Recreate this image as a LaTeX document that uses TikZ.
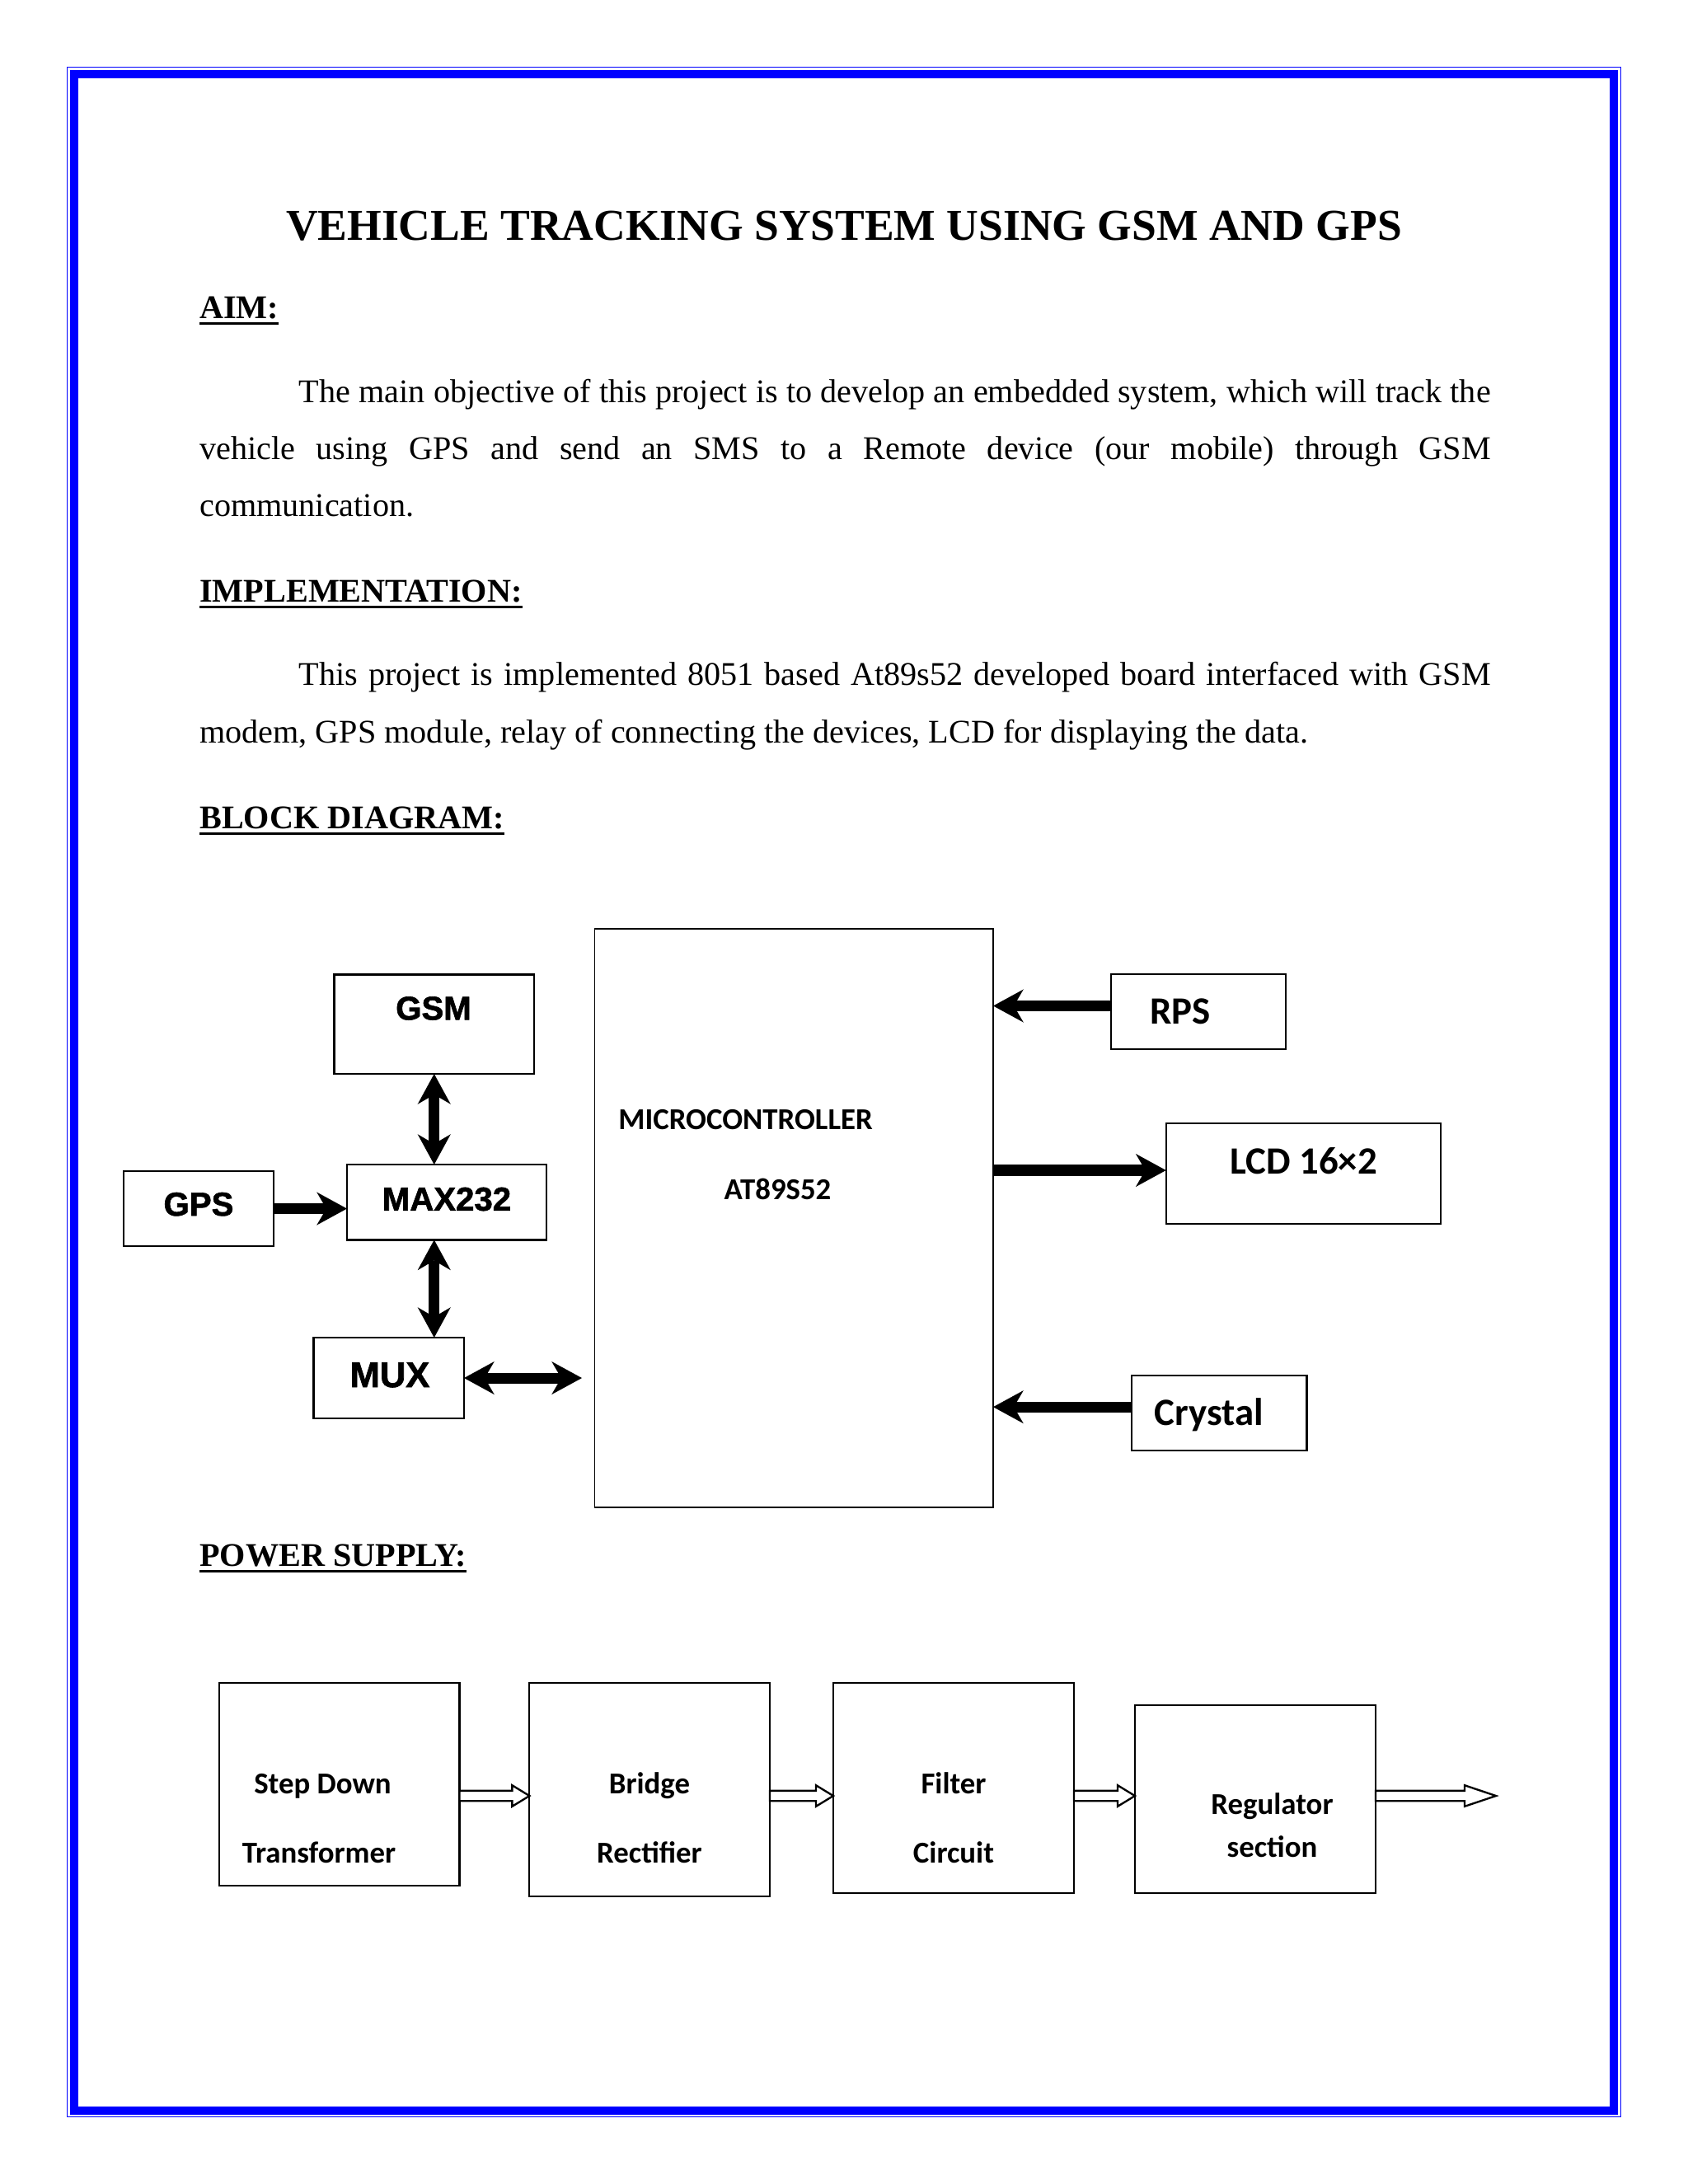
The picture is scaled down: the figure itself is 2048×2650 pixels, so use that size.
\documentclass[tikz,border=0pt]{standalone}
\usepackage{fontspec}
\setmainfont{Liberation Serif}
\newfontfamily\arialfont[FakeBold=1.6]{Liberation Sans Bold}
\newfontfamily\calfont{Carlito}
\usetikzlibrary{arrows.meta,calc}

\tikzstyle{blk}=[draw,line width=0.8pt,inner sep=0pt,outer sep=0pt]
\tikzstyle{pblk}=[draw,line width=0.6pt,inner sep=0pt,outer sep=0pt]
\tikzstyle{hd}=[anchor=base west,inner sep=0pt,font=\fontsize{12pt}{14pt}\selectfont\bfseries]
\tikzstyle{para}=[anchor=base west,inner sep=0pt,text width=468pt,align=justify,font=\fontsize{12pt}{20.7pt}\selectfont]
\tikzstyle{alab}=[anchor=base,inner sep=0pt,font=\arialfont\fontsize{12pt}{14pt}\selectfont]
\tikzstyle{clab}=[anchor=base,inner sep=0pt,font=\calfont\bfseries\fontsize{11pt}{13pt}\selectfont]
\tikzstyle{blab}=[anchor=base,inner sep=0pt,font=\calfont\bfseries\fontsize{14pt}{16pt}\selectfont]
\tikzstyle{bus}=[line width=3.9pt,>={Stealth[length=11pt,width=12pt,inset=3.5pt,line width=0pt]}]
\tikzstyle{hollow}=[draw,fill=white,line width=0.7pt,line join=miter]

\newsavebox{\hdbox}
\newcommand{\hdul}[1]{\sbox{\hdbox}{#1}\rlap{\rule[-2.4pt]{\wd\hdbox}{0.9pt}}\usebox{\hdbox}}
% open arrow of the power supply chain, drawn on the line (pwr)
\newcommand{\hollowarrow}[3]{%
  \draw[hollow] ($(#1 |- pwr)+(0,-6.2)$) -- ($(#2 |- pwr)+(-#3,-6.2)$)
    -- ($(#2 |- pwr)+(-#3,-12.8)$) -- (#2 |- pwr) -- ($(#2 |- pwr)+(-#3,12.8)$)
    -- ($(#2 |- pwr)+(-#3,6.2)$) -- ($(#1 |- pwr)+(0,6.2)$) -- cycle;}
\def\pxw{0.2988pt}

\begin{document}
\begin{tikzpicture}[x=0.2988pt,y=-0.2988pt]
\path[use as bounding box,fill=white] (0,0) rectangle (2048,2650);
% page border
\draw[blue,line width=0.5pt] (81.5,81.5) rectangle (1966.5,2568.5);
\draw[blue,line width=3pt] (90,90) rectangle (1958,2560.5);

% text
\node[anchor=base,inner sep=0pt,font=\fontsize{16pt}{19pt}\selectfont\bfseries] (title) at (1024,291) {VEHICLE TRACKING SYSTEM USING GSM AND GPS};
\node[hd] (aim) at (241.7,386) {\hdul{AIM:}};
\node[para] (aimtxt) at (241.7,488.3) {\hspace*{36pt}The main objective of this project is to develop an embedded system, which will track the\linebreak vehicle using GPS and send an SMS to a Remote device (our mobile) through GSM\linebreak communication.};
\node[hd] (impl) at (241.7,730) {\hdul{IMPLEMENTATION:}};
\node[para] (impltxt) at (241.7,831.7) {\hspace*{36pt}This project is implemented 8051 based At89s52 developed board interfaced with GSM\linebreak modem, GPS module, relay of connecting the devices, LCD for displaying the data.};
\node[hd] (bd) at (241.7,1005) {\hdul{BLOCK DIAGRAM:}};
\node[hd] (ps) at (241.7,1900) {\hdul{POWER SUPPLY:}};

% block diagram
\node[blk,minimum width=242.5*\pxw,minimum height=120.5*\pxw] (gsm) at (526.75,1242.75) {};
\node[blk,minimum width=242*\pxw,minimum height=91.4*\pxw] (max) at (542,1458.7) {};
\node[blk,minimum width=182*\pxw,minimum height=91*\pxw] (gps) at (241,1466.5) {};
\node[blk,minimum width=182.3*\pxw,minimum height=98*\pxw] (mux) at (471.85,1672) {};
\node[blk,line width=0.55pt,minimum width=483.5*\pxw,minimum height=701.5*\pxw] (mc) at (963.25,1478) {};
\node[blk,line width=0.7pt,minimum width=212*\pxw,minimum height=91*\pxw] (rps) at (1454,1227.5) {};
\node[blk,line width=0.7pt,minimum width=333.3*\pxw,minimum height=122*\pxw] (lcd) at (1581.35,1424) {};
\node[blk,line width=0.7pt,minimum width=212.5*\pxw,minimum height=91*\pxw] (crys) at (1479.25,1714.5) {};
\coordinate (muxtip) at (706,1672);

\node[alab] at (526,1237.3) {GSM};
\node[alab] at (542,1468.8) {MAX232};
\node[alab] at (241,1475) {GPS};
\node[alab,font=\arialfont\fontsize{13pt}{15pt}\selectfont] at (473,1683) {MUX};
\node[clab,anchor=base west] at (749.7,1370.3) {MICROCONTROLLER};
\node[clab,anchor=base west] at (878,1455) {AT89S52};
\node[blab] at (1432,1242) {RPS};
\node[blab] at (1581.6,1424) {LCD 16×2};
\node[blab] at (1467,1729) {Crystal};

\draw[bus,->] (gps.east) -- (gps.east -| max.west);
\draw[bus,<->] (gsm.south) -- (gsm.south |- max.north);
\draw[bus,<->] (gsm.south |- max.south) -- (gsm.south |- mux.north);
\draw[bus,<->] (mux.east) -- (muxtip);
\draw[bus,->] ([yshift=2.1pt]rps.west) -- ([yshift=2.1pt]rps.west -| mc.east);
\draw[bus,->] ([yshift=1.2pt]lcd.west -| mc.east) -- ([yshift=1.2pt]lcd.west);
\draw[bus,->] ([yshift=2.2pt]crys.west) -- ([yshift=2.2pt]crys.west -| mc.east);

% power supply
\node[pblk,minimum width=291.7*\pxw,minimum height=245.7*\pxw] (sdt) at (411.65,2164.85) {};
\node[pblk,minimum width=291.6*\pxw,minimum height=259*\pxw] (brg) at (788.2,2171.5) {};
\node[pblk,minimum width=292*\pxw,minimum height=255*\pxw] (flt) at (1157,2169.5) {};
\node[pblk,minimum width=292*\pxw,minimum height=228*\pxw] (reg) at (1523,2183) {};
\coordinate (pwr) at (0,2179);
\coordinate (out) at (1815,2179);

\node[clab] at (391.5,2176.7) {Step Down};
\node[clab] at (387,2260.7) {Transformer};
\node[clab] at (788,2176) {Bridge};
\node[clab] at (788,2260.7) {Rectifier};
\node[clab] at (1157,2176) {Filter};
\node[clab] at (1157,2260.7) {Circuit};
\node[clab] at (1543.5,2201.7) {Regulator};
\node[clab] at (1543.5,2253) {section};

\hollowarrow{sdt.east}{brg.west}{21}
\hollowarrow{brg.east}{flt.west}{21}
\hollowarrow{flt.east}{reg.west}{21}
\hollowarrow{reg.east}{out}{38}
\end{tikzpicture}
\end{document}
